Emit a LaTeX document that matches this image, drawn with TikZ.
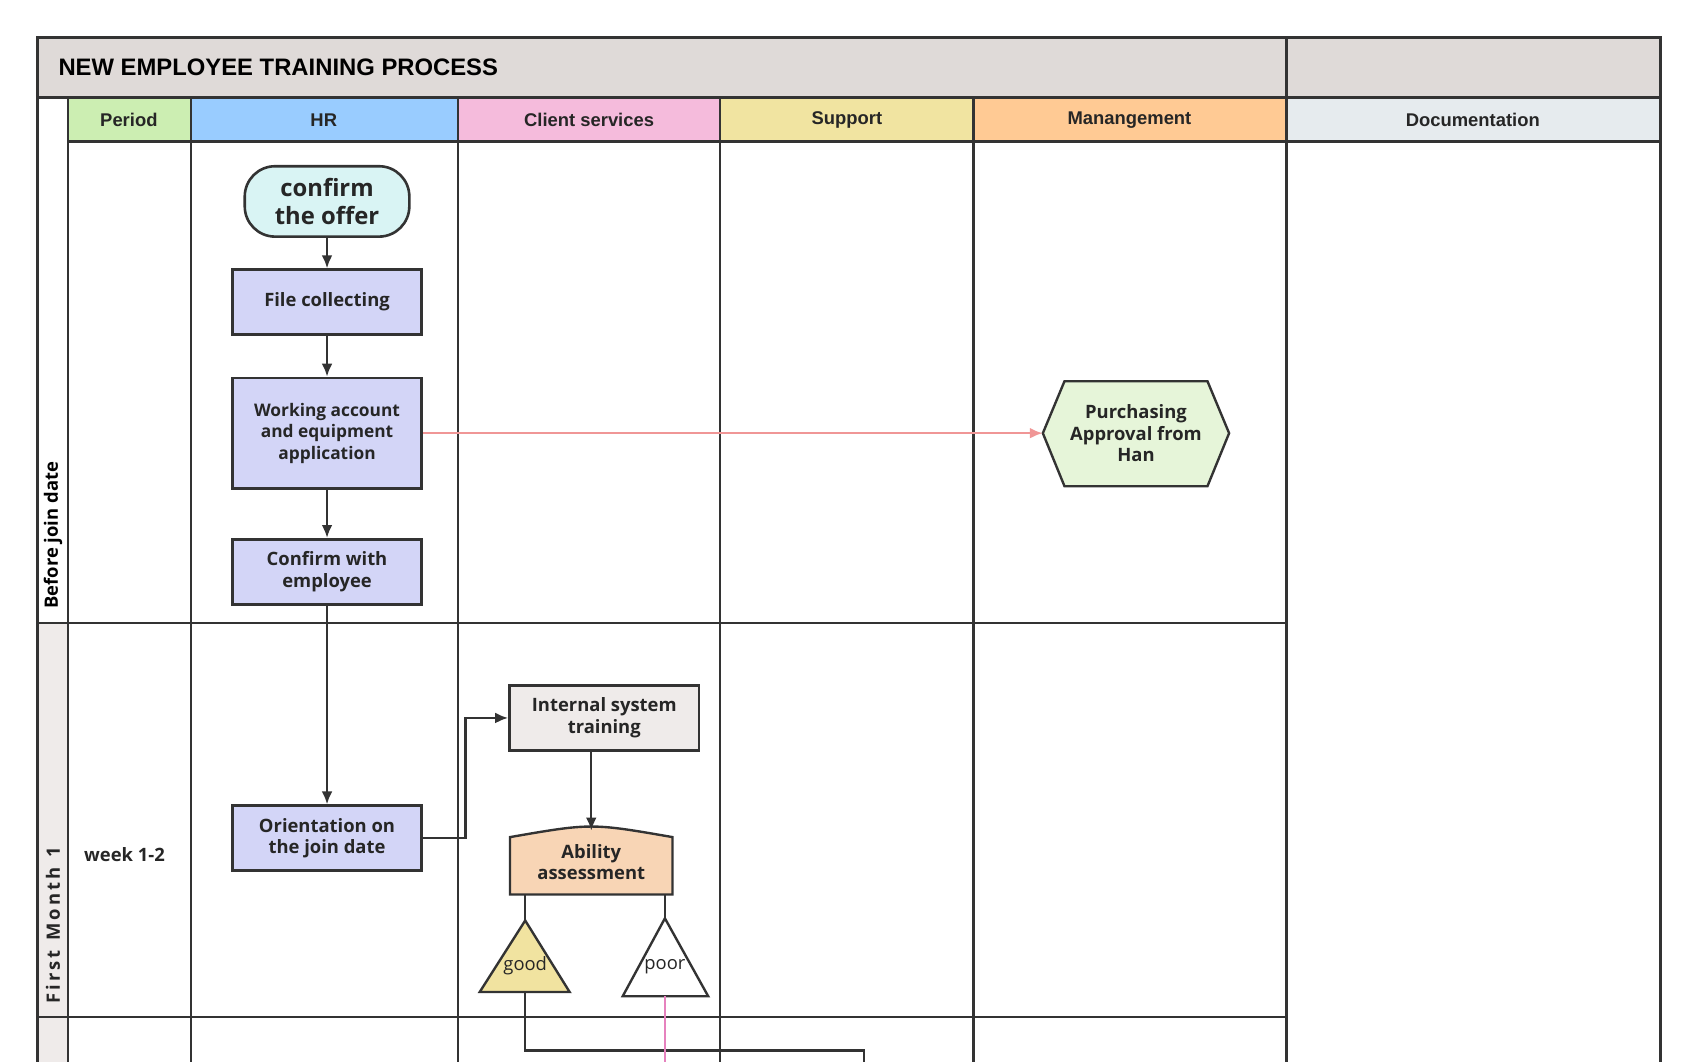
\documentclass[tikz,border=0pt]{standalone}
\usepackage{fontspec}
\setmainfont{Open Sans}
\newfontfamily\arialf{Liberation Sans}
\usetikzlibrary{arrows.meta}
\definecolor{cTitle}{RGB}{223,218,216}
\definecolor{cPer}{RGB}{204,238,178}
\definecolor{cHR}{RGB}{153,204,255}
\definecolor{cCli}{RGB}{245,187,220}
\definecolor{cSup}{RGB}{241,228,161}
\definecolor{cMan}{RGB}{255,202,148}
\definecolor{cDoc}{RGB}{230,235,238}
\definecolor{cLane}{RGB}{239,235,234}
\definecolor{cOffer}{RGB}{217,244,244}
\definecolor{cBlue}{RGB}{211,213,247}
\definecolor{cGrey}{RGB}{239,235,234}
\definecolor{cAbil}{RGB}{248,213,181}
\definecolor{cGood}{RGB}{241,227,160}
\definecolor{cHex}{RGB}{230,245,217}
\definecolor{cRed}{RGB}{240,150,150}
\definecolor{cPink}{RGB}{230,130,190}
\begin{document}
\begin{tikzpicture}[x=0.5pt,y=-0.5pt,
  grid/.style={draw=black!80,line width=1pt},
  hdr/.style={font=\arialf\bfseries\fontsize{8.5}{10}\selectfont,text=black!85},
  box/.style={draw=black!80,line width=1.2pt,fill=#1,align=center,inner sep=1pt,
    font=\bfseries\fontsize{8.5}{10}\selectfont,text=black!85},
  arr/.style={draw=black!80,line width=1.1pt,-{Latex[length=6pt,width=5pt]}},
  ln/.style={draw=black!80,line width=1.1pt}]
\useasboundingbox (0,0) rectangle (1568,980);
\clip (0,0) rectangle (1568,980);
% title band
\fill[cTitle] (35,35) rectangle (1533,90);
\node[anchor=west,font=\arialf\bfseries\fontsize{11}{13}\selectfont] (title) at (47,62) {NEW EMPLOYEE TRAINING PROCESS};
% header cells
\fill[cPer] (63,90) rectangle (176,131);
\fill[cHR] (176,90) rectangle (423,131);
\fill[cCli] (423,90) rectangle (665,131);
\fill[cSup] (665,90) rectangle (899,131);
\fill[cMan] (899,90) rectangle (1188,131);
\fill[cDoc] (1188,90) rectangle (1533,131);
\fill[cLane] (35,575) rectangle (63,990);
\node[hdr] (hp) at (119,111) {Period};
\node[hdr] (hh) at (299,111) {HR};
\node[hdr] (hc) at (544,111) {Client services};
\node[hdr] (hs) at (782,111) {Support};
\node[hdr] (hm) at (1043,111) {Manangement};
\node[hdr] (hd) at (1360,111) {Documentation};
% grid
\draw[grid,line width=1.3pt] (35,35) rectangle (1533,1100);
\draw[grid] (1188,35) -- (1188,1100);
\draw[grid,line width=1.3pt] (35,90) -- (1533,90);
\draw[grid,line width=1.3pt] (63,131) -- (1533,131);
\foreach \x in {63,176,423,665,899} \draw[grid] (\x,90) -- (\x,1100);
\draw[grid] (35,575) -- (1188,575);
\draw[grid] (35,939) -- (1188,939);
% lane labels
\node[rotate=90,anchor=west,font=\bfseries\fontsize{8.5}{10}\selectfont] (l1) at (49,569) {Before join date};
\node[rotate=90,anchor=west,font=\bfseries\fontsize{8.5}{10}\selectfont,text=black!85] (l2) at (49,934) {F\,i\,r\,s\,t\; M\,o\,n\,t\,h\; 1};
\node[font=\bfseries\fontsize{8.5}{10}\selectfont,text=black!85] (wk) at (115,789) {week 1-2};
% HR nodes
\node[box=cOffer,rounded corners=14pt,minimum width=76pt,minimum height=32.5pt,font=\bfseries\fontsize{11}{13}\selectfont] (offer) at (302,186) {confirm\\the offer};
\node[box=cBlue,minimum width=87.5pt,minimum height=30pt] (file) at (302,279) {File collecting};
\node[box=cBlue,minimum width=87.5pt,minimum height=51pt,font=\bfseries\fontsize{8}{10}\selectfont] (work) at (302,400) {Working account\\and equipment\\application};
\node[box=cBlue,minimum width=87.5pt,minimum height=30pt] (conf) at (302,528) {Confirm with\\employee};
\node[box=cBlue,minimum width=87.5pt,minimum height=30pt] (orient) at (302,774) {Orientation on\\the join date};
% client services
\node[box=cGrey,minimum width=87.5pt,minimum height=30pt] (ist) at (558,663) {Internal system\\training};
\draw[ln,fill=cAbil] (471,826) -- (471,773) .. controls (546,760) .. (621,773) -- (621,826) -- cycle;
\node[align=center,font=\bfseries\fontsize{8.5}{10}\selectfont,text=black!85] (abil) at (546,796) {Ability\\assessment};
\coordinate (abtop) at (546,767);
\coordinate (abg) at (485,826);
\coordinate (abp) at (614,826);
\draw[ln,fill=cGood] (485,850) -- (526,916) -- (443,916) -- cycle;
\draw[ln,fill=white] (614,848) -- (654,920) -- (575,920) -- cycle;
\coordinate (gtop) at (485,850);
\coordinate (ptop) at (614,848);
\coordinate (gbot) at (485,916);
\coordinate (pbot) at (614,920);
\node[font=\fontsize{8.5}{10}\selectfont,text=black!85] (good) at (485,892) {good};
\node[font=\fontsize{8.5}{10}\selectfont,text=black!85] (poor) at (614,893) {poor};
% hexagon
\draw[ln,fill=cHex] (963,400) -- (983,352) -- (1115,352) -- (1135,400) -- (1115,449) -- (983,449) -- cycle;
\coordinate (hexw) at (963,400);
\node[align=center,font=\bfseries\fontsize{8.5}{10}\selectfont,text=black!85] (hex) at (1049,400) {Purchasing\\Approval from\\Han};
% connectors
\draw[arr] (offer) -- (file);
\draw[arr] (file) -- (work);
\draw[arr] (work) -- (conf);
\draw[arr] (conf) -- (orient);
\draw[draw=cRed,line width=1.1pt,-{Latex[length=6pt,width=5pt]}] (work.east) -- (hexw);
\draw[arr] (orient.east) -- (430,774) -- (430,663) -- (ist.west);
\draw[arr] (ist.south -| abtop) -- (abtop);
\draw[ln] (abg) -- (gtop);
\draw[ln] (abp) -- (ptop);
\draw[ln] (gbot) -- (485,970) -- (798,970) -- (798,1000);
\draw[draw=cPink,line width=1.1pt] (pbot) -- (614,1000);
\end{tikzpicture}
\end{document}
